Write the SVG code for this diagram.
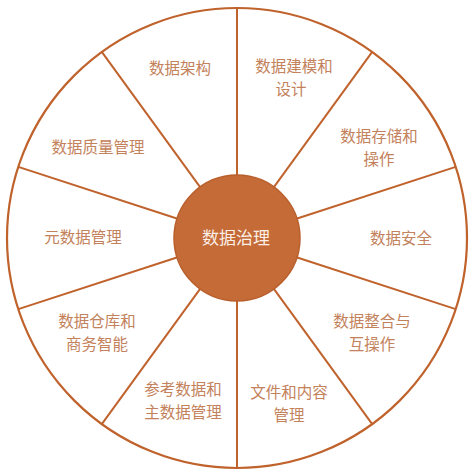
<svg xmlns="http://www.w3.org/2000/svg" width="474" height="475" viewBox="0 0 474 475">
<style>
.spoke{stroke:#C0622C;stroke-width:2;fill:none}
.lbl{font-family:"Noto Sans CJK SC","Noto Sans",sans-serif;font-size:15.5px;fill:#C3825C;text-anchor:middle}
.core{font-family:"Noto Sans CJK SC","Noto Sans",sans-serif;font-size:17px;fill:#FBEFE6;text-anchor:middle}
</style>
<rect width="474" height="475" fill="#FFFFFF"/>
<g id="wheel">
<circle cx="237" cy="238" r="230" fill="#FFFFFF" stroke="#C0622C" stroke-width="2.2"/>
</g>
<g id="connectors">
<line class="spoke" x1="237" y1="175" x2="237" y2="8"/>
<line class="spoke" x1="200.3" y1="187.4" x2="101.8" y2="51.9"/>
<line class="spoke" x1="177.6" y1="218.7" x2="18.3" y2="166.9"/>
<line class="spoke" x1="177.6" y1="257.3" x2="18.3" y2="309.1"/>
<line class="spoke" x1="200.3" y1="288.6" x2="101.8" y2="424.1"/>
<line class="spoke" x1="237" y1="301" x2="237" y2="468"/>
<line class="spoke" x1="273.7" y1="288.6" x2="372.2" y2="424.1"/>
<line class="spoke" x1="296.4" y1="257.3" x2="455.7" y2="309.1"/>
<line class="spoke" x1="296.4" y1="218.7" x2="455.7" y2="166.9"/>
<line class="spoke" x1="273.7" y1="187.4" x2="372.2" y2="51.9"/>
</g>
<g id="core">
<circle cx="237" cy="238" r="63" fill="#C56B38" stroke="#B95F2C" stroke-width="1.5"/>
<text class="core" x="236" y="244">数据治理</text>
</g>
<g id="n-arch"><text class="lbl" x="180" y="74">数据架构</text></g>
<g id="n-model"><text class="lbl" x="294" y="72">数据建模和</text><text class="lbl" x="291" y="95">设计</text></g>
<g id="n-storage"><text class="lbl" x="379" y="142">数据存储和</text><text class="lbl" x="379" y="165">操作</text></g>
<g id="n-security"><text class="lbl" x="401" y="244">数据安全</text></g>
<g id="n-integration"><text class="lbl" x="372" y="327">数据整合与</text><text class="lbl" x="372" y="350">互操作</text></g>
<g id="n-content"><text class="lbl" x="289" y="398">文件和内容</text><text class="lbl" x="289" y="421">管理</text></g>
<g id="n-master"><text class="lbl" x="183" y="395">参考数据和</text><text class="lbl" x="183" y="418">主数据管理</text></g>
<g id="n-dw"><text class="lbl" x="97" y="327">数据仓库和</text><text class="lbl" x="97" y="350">商务智能</text></g>
<g id="n-meta"><text class="lbl" x="83" y="243">元数据管理</text></g>
<g id="n-quality"><text class="lbl" x="98" y="153">数据质量管理</text></g>
</svg>
